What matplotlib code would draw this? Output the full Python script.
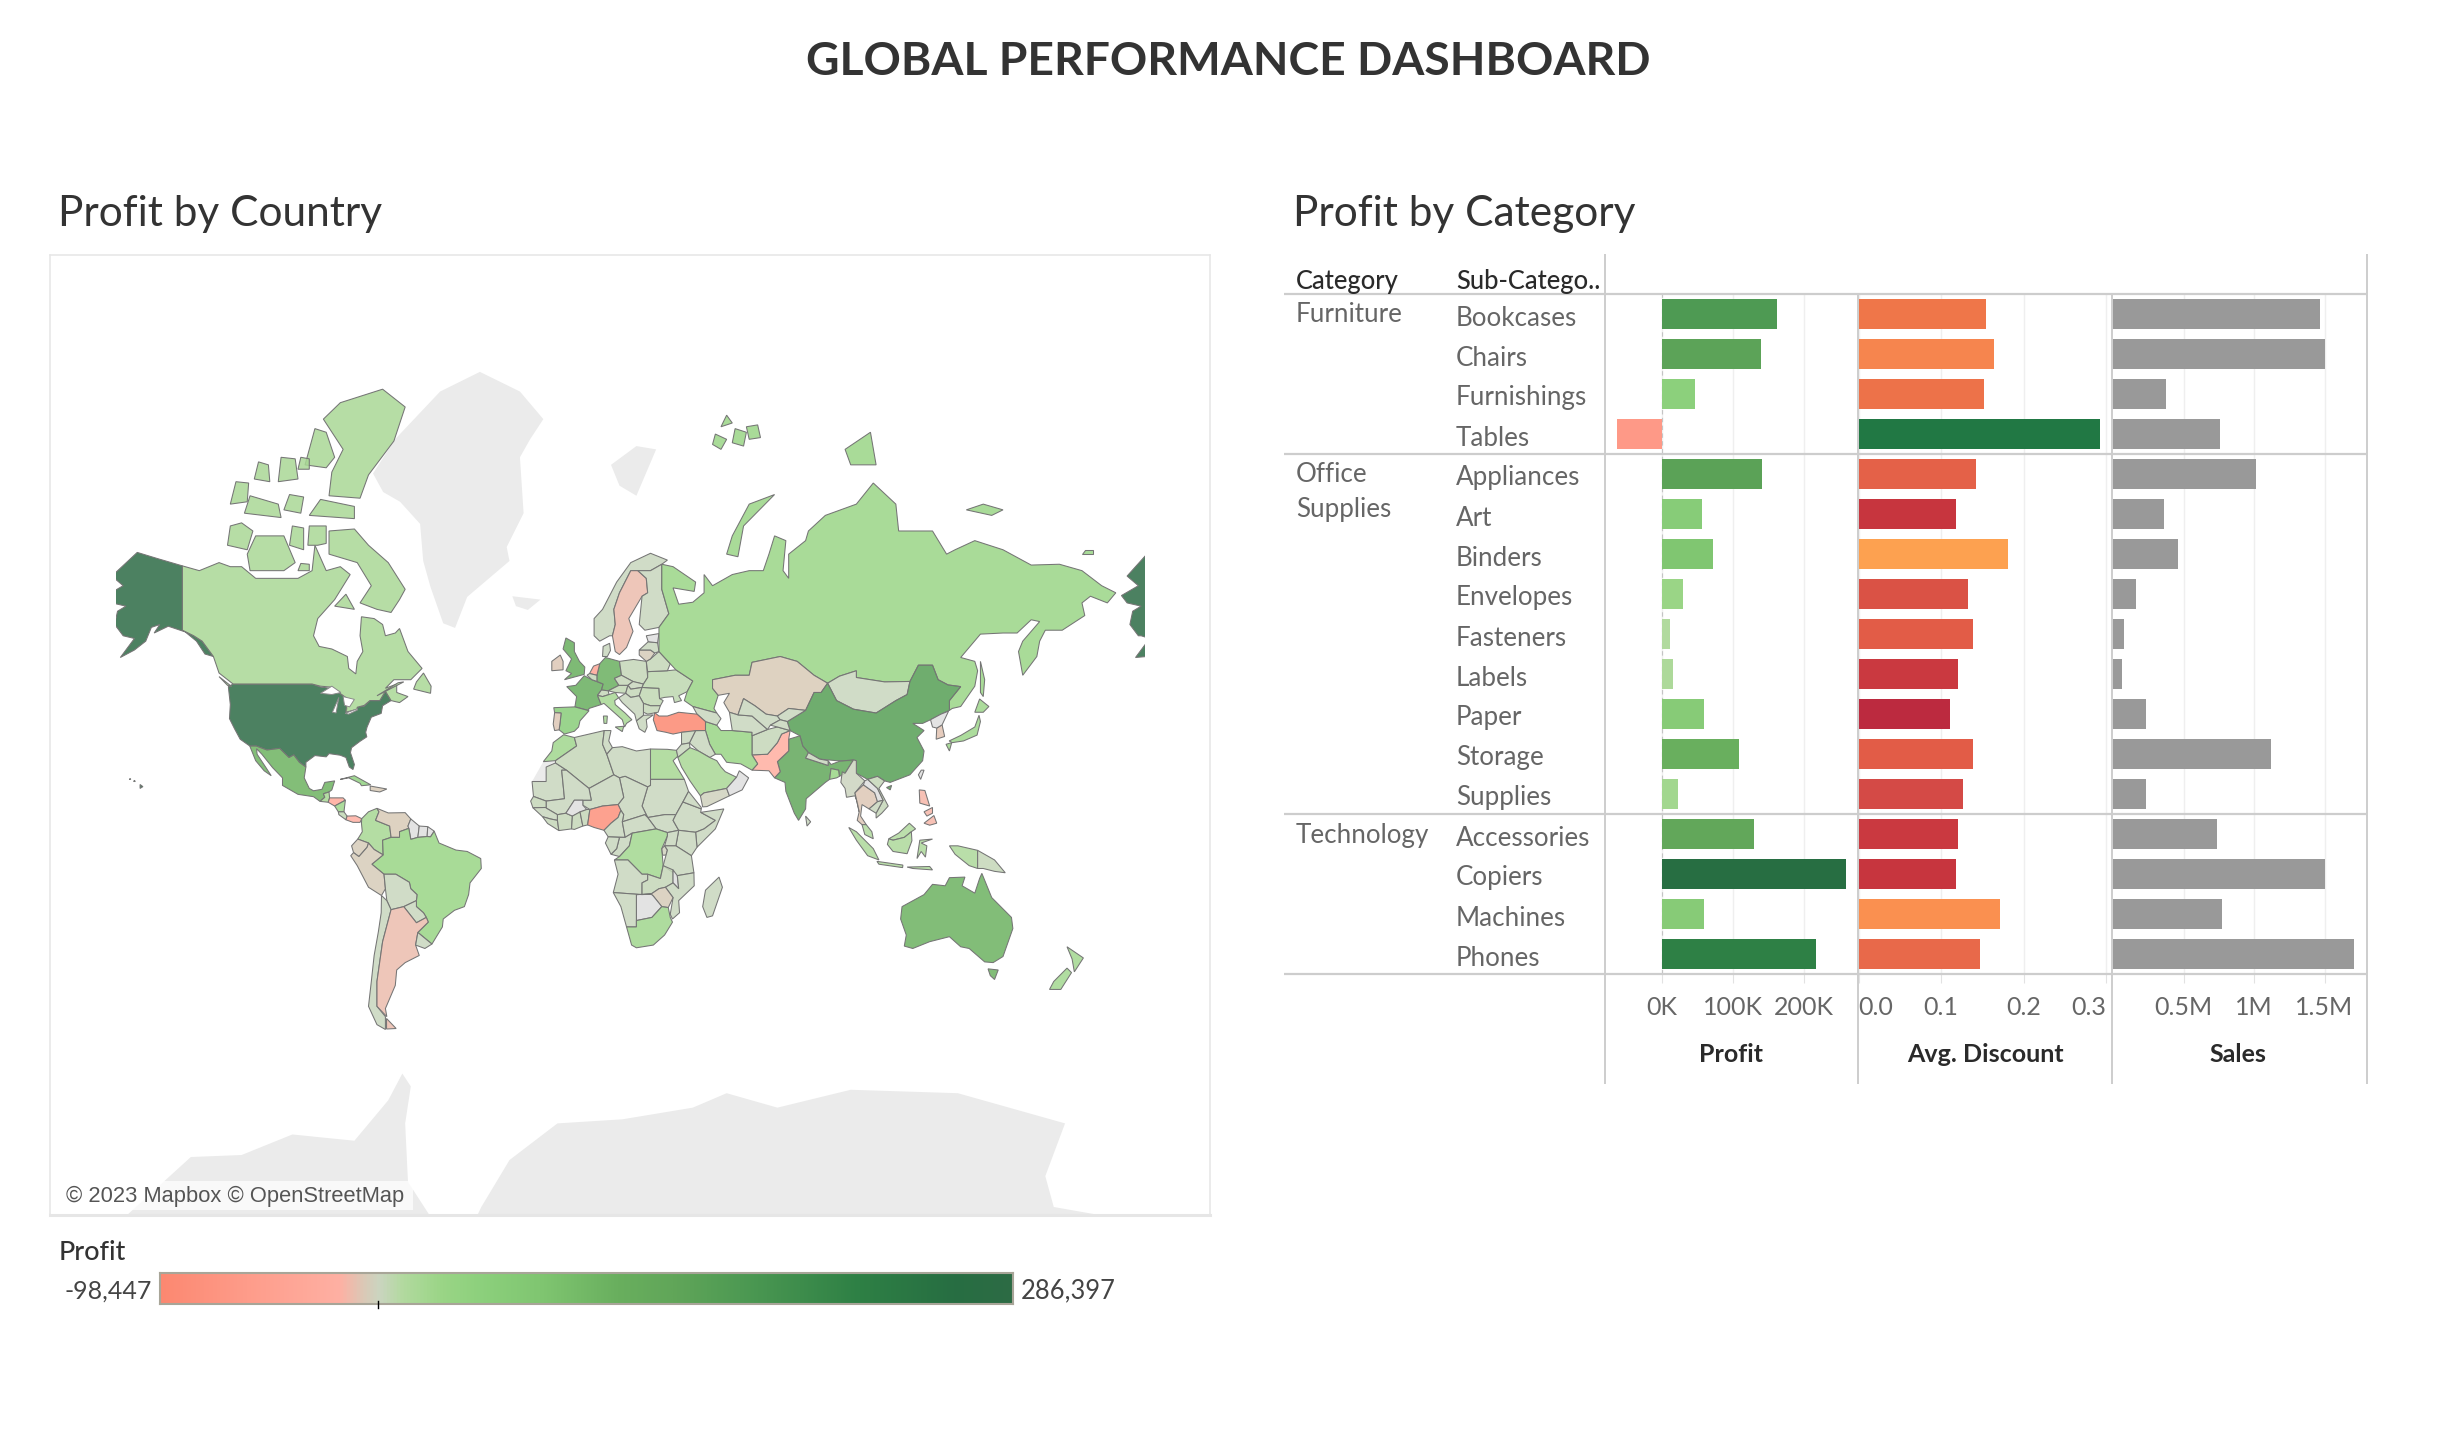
import numpy as np
import matplotlib
matplotlib.use("Agg")
import matplotlib.pyplot as plt
from matplotlib.colors import LinearSegmentedColormap, Normalize, to_rgba
from matplotlib.patches import Rectangle

W, H = 2458, 1430
FONT = "Lato"
plt.rcParams["font.family"] = [FONT, "DejaVu Sans"]

# bar chart data
categories = [("Furniture", 0), ("Office\nSupplies", 4), ("Technology", 13)]
sub_categories = ["Bookcases", "Chairs", "Furnishings", "Tables", "Appliances", "Art", "Binders",
                  "Envelopes", "Fasteners", "Labels", "Paper", "Storage", "Supplies",
                  "Accessories", "Copiers", "Machines", "Phones"]
profit = [162000, 140000, 47000, -64000, 141000, 57000, 72000, 29000, 11500, 15000, 59000,
          108000, 22500, 129500, 258500, 58500, 217000]
discount = [0.154, 0.164, 0.152, 0.292, 0.142, 0.118, 0.181, 0.133, 0.139, 0.120, 0.111,
            0.139, 0.127, 0.120, 0.118, 0.171, 0.147]
sales = [1.466, 1.50, 0.373, 0.756, 1.011, 0.362, 0.46, 0.163, 0.077, 0.061, 0.234,
         1.124, 0.234, 0.741, 1.507, 0.772, 1.706]

profit_min, profit_max = -98447, 286397

# profit per country for the map, countries missing here are null (grey)
country_profit = {
    "USA": 286397, "China": 150683, "India": 129072, "UK": 111900, "France": 109029,
    "Germany": 107322, "Australia": 103907, "Mexico": 102818, "Spain": 54390, "Brazil": 30000,
    "Russia": 28000, "Canada": 17800, "Colombia": 20000, "Italy": 20000, "Morocco": 24000,
    "South Africa": 24000, "DRC": 22000, "Iran": 30000, "Egypt": 20000, "Saudi Arabia": 18000,
    "Indonesia": 15600, "Malaysia": 12000, "Japan": 25000, "Bangladesh": 30000, "New Zealand": 22000,
    "Cuba": 40000, "Nicaragua": 25000, "PNG": 3000, "Turkey": -98447, "Nigeria": -80751,
    "Netherlands": -41000, "Honduras": -33000, "Panama": -20000, "Pakistan": -22446,
    "Argentina": -12000, "Sweden": -12000, "Philippines": -15000, "Thailand": -7000,
    "Kazakhstan": -6000, "Venezuela": -6000, "Peru": -5000, "Ecuador": -5000, "Zimbabwe": -4000,
    "Ireland": -7000, "Portugal": -7000, "South Korea": -9000, "Hispaniola": -6000, "Yemen": -2000,
    "Lithuania": -5000, "Mongolia": 800, "Bolivia": 1000, "Chile": 1500, "Paraguay": 1000,
    "Uruguay": 1500, "Guatemala": 20000, "Costa Rica": 5000, "Algeria": 2500, "Mauritania": 1000,
    "Mali": 1000, "Niger": 1000, "Chad": 1000, "Libya": 1500, "Tunisia": 2000, "Sudan": 1500,
    "South Sudan": 1000, "Ethiopia": 1000, "Eritrea": 1000, "Somalia": 1500, "Kenya": 1500,
    "Uganda": 1500, "Tanzania": 2000, "Angola": 2000, "Zambia": 2500, "Mozambique": 2000,
    "Namibia": 1000, "Madagascar": 1500, "Senegal": 2500, "Guinea": 1000, "Ivory Coast": 2500,
    "Ghana": 2500, "Liberia": 2500, "Benin": 2500, "Cameroon": 1500, "CAR": 1000, "Congo": 1000,
    "Gabon": 1000, "Rwanda": -2000, "Norway": 1500, "Finland": 1500, "Denmark": 1000,
    "Belgium": 2500, "Poland": 3000, "Czechia": 3500, "Slovakia": 2000, "Austria": 4000,
    "Switzerland": 2500, "Hungary": 3000, "Romania": 4000, "Bulgaria": 2500, "Greece": 2000,
    "Balkans": 2000, "Ukraine": 6000, "Belarus": 2500, "Latvia": 2000, "Iraq": 2000, "Syria": 1500,
    "Jordan": 1500, "Afghanistan": 2500, "Uzbekistan": 1500, "Turkmenistan": 2000, "Kyrgyzstan": 1000,
    "Tajikistan": 1500, "Caucasus": 1500, "Myanmar": 500, "Vietnam": 3000, "Cambodia": 2000,
    "Nepal": 1000, "Sri Lanka": 1000,
}

# outlines as (lon, lat) rings
shapes_north_america = {
    "USA": [
        [(-124.7, 48.4), (-123, 49), (-95, 49), (-92, 48.3), (-88.5, 48), (-84.8, 46.6), (-83.5, 45.8),
         (-82.5, 43), (-83, 42), (-79, 42.8), (-79, 43.3), (-76.5, 43.6), (-74.5, 45), (-71, 45),
         (-69, 47.3), (-67, 45), (-70, 43.7), (-70.5, 41.7), (-74, 40.7), (-75.5, 38), (-76, 36.5),
         (-75.6, 35.2), (-78, 33.9), (-81, 32), (-81.4, 30.5), (-80, 26.8), (-80.5, 25.2), (-81.8, 26),
         (-83, 29), (-85, 29.7), (-89, 30.2), (-90, 29.2), (-94, 29.6), (-97.2, 27.5), (-97.2, 26),
         (-99.5, 27.5), (-101.5, 29.8), (-103.2, 29), (-106.5, 31.8), (-111, 31.3), (-114.8, 32.5),
         (-117.1, 32.5), (-120.5, 34.5), (-122.5, 37.5), (-124.3, 40.3), (-124, 44)],
        [(-141, 69.6), (-141, 60), (-137, 59), (-134, 58), (-130, 55), (-133, 55.5), (-136, 58), (-140, 59.7),
         (-146, 60.7), (-151, 59.5), (-149, 61), (-152, 60.5), (-154, 58), (-158, 56.3), (-163, 54.8), (-158, 58.5), (-162, 59),
         (-165, 61), (-164, 63.2), (-161, 64), (-166, 64.5), (-168, 65.6), (-162, 67), (-166, 68.3),
         (-157, 71.2), (-150, 70.5)],
        # western Alaska wraps round to the right edge of the map
        [(199, 59), (198, 59), (195, 61), (196, 63.2), (199, 64), (194, 64.5), (192, 65.6), (198, 67),
         (194, 68.3), (201, 71), (201, 55), (197, 54.8), (202, 58.5)],
        [(-156, 19), (-155, 19.6), (-156, 20.3)],
        [(-158.3, 21.3), (-157.7, 21.3), (-158, 21.7)],
        [(-159.8, 22), (-159.3, 22), (-159.5, 22.3)],
    ],
    "Canada": [
        [(-141, 69.6), (-135, 69), (-128, 70), (-124, 69.5), (-120, 69.5), (-115, 68), (-108, 68), (-100, 68), (-95, 69),
         (-94, 72), (-90, 69), (-85, 69.5), (-81.5, 68.5), (-87, 65), (-93, 62), (-94.5, 59), (-92.5, 57),
         (-88, 56.5), (-82.5, 55), (-82, 52.5), (-79.5, 51.3), (-79, 54), (-77, 56), (-78, 59), (-77.5, 62.3),
         (-73, 62), (-70, 61), (-69, 59), (-65.5, 59.5), (-64, 60.3), (-61, 56), (-56, 52.5), (-60, 50),
         (-66, 50), (-69, 48), (-65, 49), (-65, 47), (-61, 46), (-64, 44.5), (-67, 45), (-69, 47.3), (-71, 45),
         (-74.5, 45), (-76.5, 43.8), (-79, 43.3), (-79, 42.8), (-83, 42), (-82.5, 45.5), (-84.5, 46.5),
         (-88.5, 48.3), (-92, 48.5), (-95, 49), (-123, 49), (-128, 51.5), (-130, 55), (-134, 58), (-137, 59),
         (-141, 60)],
        [(-62, 66.5), (-64, 65), (-67, 63), (-72, 63.5), (-78, 64.5), (-74, 67), (-79, 70), (-89, 71), (-89, 73.5),
         (-80, 73.7), (-75, 72), (-68, 70)],
        [(-117, 69), (-105, 69), (-101, 70), (-105, 73), (-115, 73), (-118, 71)],
        [(-125, 72), (-118, 71.5), (-116, 73.5), (-120, 74.3), (-124, 74)],
        [(-89, 76.7), (-78, 76.5), (-75, 78.3), (-66, 80.5), (-62, 82.3), (-70, 83.1), (-85, 82.5), (-91, 81.7), (-84, 80), (-88, 78.5)],
        [(-96, 75), (-80, 74.7), (-80, 75.8), (-92, 76.4)],
        [(-119, 75.2), (-106, 74.8), (-107, 76), (-117, 76.7)],
        [(-97.5, 79), (-90, 78.8), (-87, 79.5), (-90, 81), (-94, 81.2)],
        [(-87, 64), (-80, 63.5), (-83, 65.8)],
        [(-59, 47.8), (-53, 46.8), (-52.8, 48.5), (-55.5, 51.5), (-58, 49.5)],
        [(-128, 50.7), (-123.5, 48.4), (-125, 48.7)],
        [(-96.5, 72), (-93, 72), (-90, 72.2), (-90, 74), (-96, 74)],
        [(-103, 72), (-98, 71.5), (-98, 73.8), (-102, 74)],
        [(-105, 75.5), (-99, 75.2), (-98, 76.6), (-103, 76.8)],
        [(-115.5, 78), (-110, 77.8), (-110.5, 79), (-114, 79.2)],
        [(-124, 76), (-118, 76.2), (-117.5, 77.7), (-122, 77.8)],
        [(-107, 77.8), (-100, 78), (-101, 79.4), (-106, 79.5)],
        [(-100, 78.7), (-96, 78.7), (-96, 79.4), (-99, 79.5)],
        [(-100, 69), (-96, 69), (-96, 69.8), (-99, 69.9)],
        [(-72, 46.2), (-62.5, 49.5), (-64.5, 49.3)],
    ],
    "Mexico": [[(-117.1, 32.5), (-114.8, 32.5), (-111, 31.3), (-106.5, 31.8), (-103.2, 29), (-101.5, 29.8),
                (-99.5, 27.5), (-97.2, 26), (-97.8, 22.5), (-96, 19), (-94.5, 18.2), (-91.5, 18.7), (-90.5, 21),
                (-87, 21.5), (-88, 18.5), (-89, 17.8), (-91, 17.2), (-90.5, 16), (-92.2, 14.6), (-94.5, 16.2),
                (-100, 17), (-105.5, 20), (-105.5, 22.5), (-109, 25.8), (-112.8, 30), (-114.7, 31.7), (-114.5, 30),
                (-111.5, 26), (-109.5, 23.2), (-112, 24.8), (-115, 28)]],
    "Guatemala": [[(-92.2, 14.6), (-90.5, 16), (-91, 17.2), (-89, 17.8), (-88.8, 15.8), (-89.3, 14.3)]],
    "Honduras": [[(-88.8, 15.8), (-84, 15.8), (-83.2, 15), (-87, 13), (-89.3, 14.3)]],
    "Nicaragua": [[(-87, 13), (-83.2, 15), (-83.7, 11), (-85.7, 11)]],
    "Costa Rica": [[(-85.7, 11), (-83.7, 11), (-82.6, 9.5), (-83, 8.2), (-85.5, 10)]],
    "Panama": [[(-82.6, 9.5), (-79.5, 9.6), (-77.4, 8.6), (-78, 7.3), (-80.5, 7.3), (-83, 8.2)]],
    "Cuba": [[(-85, 22), (-80, 23.2), (-74.2, 20.2), (-77.5, 19.9), (-78, 20.7), (-82, 22.5)]],
    "Hispaniola": [[(-74.4, 19.8), (-68.5, 18.8), (-71, 17.8), (-74.4, 18.3)]],
}

shapes_south_america = {
    "Colombia": [[(-77.4, 8.6), (-75, 11), (-72, 12.2), (-71.3, 11), (-72.5, 8), (-70, 7), (-67.5, 6), (-67, 2),
                  (-70, 1), (-69.8, -4.2), (-73, -2.3), (-75, 0), (-78.8, 1.4), (-77.2, 4), (-77.5, 7)]],
    "Venezuela": [[(-72, 12.2), (-68, 10.6), (-62, 10.7), (-60, 8.5), (-61, 6), (-60.7, 5.2), (-64, 4), (-64, 2),
                   (-67, 2), (-67.5, 6), (-70, 7), (-72.5, 8), (-71.3, 11)]],
    "Guyana": [[(-60, 8.5), (-57, 6), (-57.5, 2), (-60, 1.3), (-60.7, 5.2), (-61, 6)]],
    "Suriname": [[(-57, 6), (-54, 5.8), (-54.2, 2.3), (-57.5, 2)]],
    "French Guiana": [[(-54, 5.8), (-51.7, 4.2), (-53, 2.2), (-54.2, 2.3)]],
    "Brazil": [[(-60.7, 5.2), (-60, 1.3), (-57.5, 2), (-54.2, 2.3), (-53, 2.2), (-51.7, 4.2), (-50, 0), (-44, -2.5),
                (-40, -3), (-35.2, -5.5), (-35, -9), (-39, -14), (-39.5, -18), (-41, -22), (-44.5, -23.2),
                (-48.5, -26), (-48.8, -28.5), (-52.5, -33.7), (-57.5, -30.2), (-53.8, -27), (-54.5, -25.5),
                (-55.5, -24), (-58, -22), (-58, -20), (-57.8, -18), (-60, -16), (-60.5, -13.8), (-65.3, -11),
                (-69.5, -11), (-73.8, -7.5), (-69.8, -4.2), (-70, 1), (-67, 2), (-64, 2), (-64, 4)]],
    "Ecuador": [[(-78.8, 1.4), (-75, 0), (-75.5, -1.5), (-78.4, -4.8), (-80.3, -3.4), (-81, -1)]],
    "Peru": [[(-81.3, -4.5), (-80.3, -3.4), (-78.4, -4.8), (-75.5, -1.5), (-75, 0), (-73, -2.3), (-69.8, -4.2),
              (-73.8, -7.5), (-69.5, -11), (-69, -16), (-70.4, -18.3), (-75, -15.5), (-79, -8)]],
    "Bolivia": [[(-69.5, -11), (-65.3, -11), (-60.5, -13.8), (-60, -16), (-57.8, -18), (-58, -20), (-62.5, -22),
                 (-67, -23), (-68.5, -20), (-69, -16)]],
    "Paraguay": [[(-58, -20), (-58, -22), (-55.5, -24), (-54.5, -25.5), (-58, -27.2), (-62.5, -22)]],
    "Chile": [[(-70.4, -18.3), (-68.5, -20), (-67, -23), (-70, -33), (-72, -44), (-72, -50), (-69, -52.3), (-69, -55),
               (-72, -54), (-75, -50), (-74, -44), (-73, -37), (-71.5, -30), (-70.5, -24)]],
    "Argentina": [[(-67, -23), (-62.5, -22), (-58, -27.2), (-54.5, -25.5), (-53.8, -27), (-57.5, -30.2), (-58.3, -34),
                   (-57, -37), (-62, -39), (-65, -41), (-65.5, -45), (-69, -50.5), (-68.5, -52.3), (-72, -50),
                   (-72, -44), (-70, -33)],
                  [(-68.6, -52.7), (-65.2, -54.8), (-68.6, -54.9)]],
    "Uruguay": [[(-57.5, -30.2), (-52.5, -33.7), (-55, -35), (-58.3, -34)]],
}

shapes_europe = {
    "UK": [[(-5.5, 50), (1.5, 51.2), (1.7, 52.8), (-0.2, 54), (-2, 56), (-2, 57.7), (-5, 58.6), (-6, 56.5), (-3, 54.5),
            (-5, 52), (-3, 51.4)]],
    "Ireland": [[(-10, 52), (-6, 52.2), (-6, 54), (-7, 55.3), (-10, 54)]],
    "France": [[(-4.7, 48.4), (-1.5, 48.7), (1.5, 50.9), (4.2, 50), (8.2, 49), (7.6, 47.6), (6.2, 46.3), (7.5, 44),
                (3.2, 43), (3, 42.5), (-1.8, 43.4), (-1.2, 46)]],
    "Spain": [[(-9.3, 43.2), (-1.8, 43.4), (3.2, 42.4), (0, 39.7), (-0.5, 38), (-2, 36.8), (-5.5, 36), (-7.4, 37.2),
               (-7, 39.5), (-6.7, 41.8), (-9, 41.9)]],
    "Portugal": [[(-9, 41.9), (-6.7, 41.8), (-7, 39.5), (-7.4, 37.2), (-9, 37), (-9.5, 38.8)]],
    "Germany": [[(6, 51), (7, 53.5), (9, 54.8), (14, 54), (14.7, 51), (12.2, 50.3), (13.8, 48.7), (10, 47.4), (7.6, 47.6),
                 (8.2, 49), (6, 49.6)]],
    "Netherlands": [[(3.4, 51.4), (6, 51), (7, 53.5), (4.8, 53)]],
    "Belgium": [[(2.5, 51), (3.4, 51.4), (6, 51), (6, 49.6), (4.2, 50)]],
    "Switzerland": [[(6.2, 46.3), (7.6, 47.6), (10, 47.4), (10.3, 46.5), (8, 46)]],
    "Austria": [[(10, 47.4), (13.8, 48.7), (17, 48.7), (16.2, 46.8), (12.5, 47)]],
    "Italy": [[(7.5, 44), (6.2, 46.3), (8, 46), (10.3, 46.5), (12.5, 47), (13.7, 45.7), (12.3, 45), (12.5, 44), (16, 41.8),
               (18.4, 40), (16.5, 39), (15.8, 38), (15, 40), (10.5, 43), (8.5, 44.3)],
              [(12.5, 38), (15.5, 38.2), (15, 36.7)], [(8.3, 41), (9.7, 41), (9.5, 39), (8.5, 39)]],
    "Poland": [[(14, 54), (19, 54.4), (23.5, 54), (24, 50.5), (22.5, 49), (19, 49.5), (14.7, 51)]],
    "Czechia": [[(12.2, 50.3), (14.7, 51), (18.8, 49.6), (17, 48.7), (13.8, 48.7)]],
    "Slovakia": [[(17, 48.7), (18.8, 49.6), (22.5, 49), (22, 48.2), (18, 47.8)]],
    "Hungary": [[(16.2, 46.8), (17, 48.7), (18, 47.8), (22, 48.2), (21, 46.2), (18, 45.8)]],
    "Romania": [[(22, 48.2), (28, 48), (28.2, 45.5), (29.5, 45), (28.5, 43.7), (25, 43.7), (22.5, 44.3), (21, 46.2)]],
    "Bulgaria": [[(22.5, 44.3), (25, 43.7), (28.5, 43.7), (27.7, 42), (24, 41.5), (22.5, 42)]],
    "Greece": [[(20, 39.7), (22.5, 41.2), (26, 41.3), (23.5, 40), (23.8, 38), (23, 36.5), (21, 37.5)]],
    "Balkans": [[(13.7, 45.7), (16.2, 46.8), (18, 45.8), (21, 46.2), (22.5, 44.3), (22.5, 42), (22.5, 41.2), (20, 39.7),
                 (19.4, 41.5), (15, 44.5)]],
    "Ukraine": [[(24, 50.5), (24, 51.8), (31, 52), (34, 52.2), (40, 49.7), (38, 47.2), (35, 46.2), (36, 45), (33.5, 44.5),
                 (33, 46), (30, 45.8), (28.2, 45.5), (28, 48), (22, 48.2), (22.5, 49)]],
    "Belarus": [[(23.5, 54), (24, 51.8), (31, 52), (32, 53.5), (28, 56), (25, 54.5)]],
    "Lithuania": [[(21, 55.3), (21, 56.3), (25, 56.3), (26.5, 55.7), (25, 54.5), (23.5, 54)]],
    "Latvia": [[(21, 56.3), (24.2, 57.9), (27.5, 57.7), (28, 56), (26.5, 55.7), (25, 56.3)]],
    "Estonia": [[(23.5, 59), (28, 59.4), (27.5, 57.7), (24.2, 57.9)]],
    "Denmark": [[(8, 55), (8.2, 57), (10.5, 57.6), (10.8, 56.2), (9.7, 55)]],
    "Norway": [[(5, 59), (7, 58), (10.5, 59), (11.5, 59), (12.5, 61), (12, 63.5), (14, 66), (18, 69), (20.5, 69), (25, 69),
                (29, 69.8), (31, 70.3), (25, 71.1), (18, 70), (13, 67.5), (8, 63.5), (5, 62)]],
    "Sweden": [[(11.5, 59), (12.5, 56), (14, 55.4), (16.5, 56.8), (18.8, 59.8), (17.3, 62), (22, 65.5), (24, 66),
                (23.5, 68), (20.5, 69), (18, 69), (14, 66), (12, 63.5), (12.5, 61)]],
    "Finland": [[(24, 66), (22, 65.5), (21, 61), (23, 60), (28, 60.5), (31.5, 62.8), (29, 66.5), (29, 69.8), (25, 69),
                 (20.5, 69), (23.5, 68)]],
}

shapes_africa = {
    "Morocco": [[(-5.8, 35.8), (-2, 35), (-1.2, 32.5), (-8.7, 28), (-13, 27.7), (-10, 31), (-9.5, 33.5)]],
    "Mauritania": [[(-17, 21.3), (-12, 21.3), (-12, 26), (-8.7, 27.3), (-4.8, 25), (-6.5, 25), (-5.5, 15.5), (-12, 14.7),
                    (-16.5, 16.3)]],
    "Algeria": [[(-2, 35), (8.6, 37), (8, 33), (9.5, 30), (12, 23.5), (3.2, 19), (1.2, 20.5), (-4.8, 25), (-8.7, 27.3),
                 (-8.7, 28), (-1.2, 32.5)]],
    "Tunisia": [[(8.6, 37), (11, 37), (10.2, 34), (11.5, 32), (9.5, 30), (8, 33)]],
    "Libya": [[(11.5, 32), (15, 32.3), (20, 31), (25, 31.6), (25, 20), (24, 19.5), (16, 23), (14, 22.5), (12, 23.5), (9.5, 30)]],
    "Egypt": [[(25, 31.6), (31, 31.5), (34.2, 31.2), (34.8, 29.5), (33, 28), (37, 22), (25, 22)]],
    "Sudan": [[(25, 22), (37, 22), (38.5, 18), (36.5, 14.4), (34, 10), (30, 10), (24, 9), (22, 13), (24, 19.5), (25, 20)]],
    "South Sudan": [[(24, 9), (30, 10), (34, 10), (33, 8), (35, 4.5), (31, 3.7), (27, 5)]],
    "Chad": [[(14, 22.5), (16, 23), (24, 19.5), (22, 13), (24, 9), (23, 10), (15, 7.5), (15.5, 10), (14.5, 11.5), (13.5, 13.5), (15.5, 16)]],
    "Niger": [[(3.2, 19), (12, 23.5), (14, 22.5), (15.5, 16), (13.5, 13.5), (8, 13), (3.5, 11.8), (1, 13.3), (1, 15), (4, 15)]],
    "Mali": [[(-12, 14.7), (-5.5, 15.5), (-6.5, 25), (-4.8, 25), (1.2, 20.5), (3.2, 19), (4, 15), (1, 15), (-2, 15), (-5, 10.5),
              (-8, 10), (-12, 12.3)]],
    "Senegal": [[(-17.5, 14.7), (-16.5, 16.3), (-12, 14.7), (-12, 12.5), (-16.7, 12.4)]],
    "Guinea": [[(-16.7, 12.4), (-12, 12.5), (-12, 12.3), (-8, 10), (-8, 8), (-10.5, 8.5), (-13.3, 9.3)]],
    "Liberia": [[(-13.3, 9.3), (-10.5, 8.5), (-8, 8), (-7.5, 4.4), (-11.5, 6.9)]],
    "Ivory Coast": [[(-8, 10), (-5, 10.5), (-2.7, 9.5), (-3, 5), (-7.5, 4.4), (-8, 8)]],
    "Burkina Faso": [[(-5, 10.5), (-2, 15), (1, 15), (1, 13.3), (2.4, 11.8), (-2.7, 9.5)]],
    "Ghana": [[(-2.7, 9.5), (0, 11), (1, 6), (-2, 4.8), (-3, 5)]],
    "Benin": [[(0, 11), (2.4, 11.8), (3.5, 11.8), (2.7, 6.4), (1, 6)]],
    "Nigeria": [[(2.7, 6.4), (3.5, 11.8), (8, 13), (13.5, 13.5), (14.5, 11.5), (13.5, 9), (11, 7), (8.5, 4.5), (5, 5.5)]],
    "Cameroon": [[(8.5, 4.5), (11, 7), (13.5, 9), (14.5, 11.5), (15.5, 10), (15, 7.5), (16, 2), (10, 2.2)]],
    "CAR": [[(15, 7.5), (23, 10), (24, 9), (27, 5), (18.5, 3.5), (16, 2)]],
    "Congo": [[(11, -4), (14, -4.8), (17.5, -1), (18.5, 3.5), (16, 2), (14, 2), (13, -2)]],
    "Gabon": [[(9, 0), (10, 2.2), (14, 2), (13, -2), (11, -4)]],
    "DRC": [[(12.2, -6), (17, -6), (22, -11), (24, -11), (28.5, -12.5), (29.5, -8), (29, -2), (31, 2.5), (31, 3.7), (27, 5), (18.5, 3.5),
             (17.5, -1), (14, -4.8)]],
    "Ethiopia": [[(33, 8), (34, 10), (36.5, 14.4), (43, 12), (42.8, 10.8), (48, 8), (44, 5), (41, 3.8), (35, 4.5)]],
    "Eritrea": [[(36.5, 14.4), (38.5, 18), (43, 12.5), (43, 12)]],
    "Somalia": [[(42.8, 10.8), (51, 12), (48, 5), (41.5, -1.5), (41, 3.8), (44, 5), (48, 8)]],
    "Kenya": [[(35, 4.5), (41, 3.8), (41.5, -1.5), (39.5, -4.5), (34, -1)]],
    "Uganda": [[(31, 3.7), (35, 4.5), (34, -1), (30, -1), (31, 2.5)]],
    "Rwanda": [[(29, -2), (30, -1), (31, -2.5), (30.5, -4.3), (29.3, -4.3)]],
    "Tanzania": [[(31, -2.5), (30, -1), (34, -1), (39.5, -4.5), (40.4, -10.5), (34.5, -11.5), (29.5, -8), (30.5, -4.3)]],
    "Angola": [[(12.2, -6), (17, -6), (22, -11), (24, -11), (24, -13), (22, -14), (22, -18), (11.8, -17.3), (13.5, -11)]],
    "Zambia": [[(24, -11), (28.5, -12.5), (29.5, -8), (33, -9.5), (33, -14), (30.3, -15.5), (28, -16), (25.2, -17.8), (22, -18),
                (22, -14), (24, -13)]],
    "Malawi": [[(33, -9.5), (34.5, -11.5), (35, -16), (33, -14)]],
    "Mozambique": [[(34.5, -11.5), (40.4, -10.5), (40.5, -15), (35, -20), (35.3, -24), (32.8, -26), (32, -24.5), (33, -19),
                    (30.3, -15.5), (33, -14), (35, -16)]],
    "Zimbabwe": [[(25.2, -17.8), (28, -16), (30.3, -15.5), (33, -19), (31.3, -22.3), (29, -22), (26, -18.5)]],
    "Botswana": [[(20, -18), (25.2, -17.8), (26, -18.5), (29, -22), (25.5, -25.5), (20, -26.5), (20, -22)]],
    "Namibia": [[(11.8, -17.3), (22, -18), (25.2, -17.8), (20, -18), (20, -28.5), (16.5, -28.5), (14.5, -22)]],
    "South Africa": [[(16.5, -28.5), (20, -28.5), (20, -26.5), (25.5, -25.5), (29, -22), (31.3, -22.3), (32, -25.5), (32.8, -27),
                      (30, -31), (26, -34), (20, -34.8), (18.3, -34)]],
    "Madagascar": [[(49.3, -12), (50.5, -15.5), (47, -25), (45, -25.5), (43.5, -22), (44.5, -16.5)]],
}

shapes_asia = {
    "Russia": [
        [(28, 60.5), (31.5, 62.8), (29, 66.5), (29, 69.8), (33, 69.5), (41, 67.5), (40.5, 66.2), (33, 66.7), (35, 64.3), (40, 64.6),
         (44, 66), (44, 68.5), (47, 67), (54, 68.5), (60, 69), (65, 69), (67, 71), (69, 73), (73, 72.5), (72, 69), (74, 68),
         (74, 71), (80, 72.5), (81, 73.5), (87, 75), (98, 76), (104, 77.7), (112, 76), (113, 73.5), (125, 73.5), (130, 71),
         (133, 71.5), (140, 72.5), (150, 71.5), (160, 69.7), (170, 69.8), (178, 69), (185, 67), (190, 66), (187, 64.5),
         (181, 65.5), (178, 64.5), (179, 62.5), (171, 60), (165, 60), (163, 58), (162, 55), (157, 51), (155.5, 56), (157, 58),
         (163, 61.5), (160, 61.8), (155, 59.5), (150, 59.5), (142, 59.3), (135, 54.8), (140, 54), (141, 52), (140, 48.5),
         (135, 43.5), (132, 43), (131, 42.5), (131, 45), (135, 48.4), (130.5, 48.8),
         (127, 50), (125, 53.2), (120, 53.2), (117, 49.6), (108, 49.5), (98, 50.5), (98, 52), (92, 50.8), (87.8, 49.2),
         (83, 51), (77, 54), (71, 55), (61, 53.8), (60, 51), (55, 51), (47, 50), (47, 48), (49, 46.3), (47.5, 43),
         (48.5, 41.8), (45, 42.5), (40, 43.5), (37, 45), (38, 47.2), (40, 49.7), (34, 52.2), (32, 53.5), (28, 56)],
        [(52, 71), (56, 70.7), (58, 74), (69, 76.8), (60, 76), (54, 73)],
        [(142, 54), (143.5, 50), (143, 46), (142, 47)],
        [(96, 79), (105, 79), (103, 81), (94, 80)],
        [(137, 75.5), (146, 75), (150, 75.5), (143, 76)],
        [(178, 71), (182, 71), (182, 71.5), (179, 71.5)],
        [(47, 80.3), (50, 80), (52, 80.6), (48, 80.9)],
        [(54, 80.4), (58, 80.2), (59, 81), (55, 81.2)],
        [(60, 80.6), (64, 80.7), (63, 81.4), (59, 81.3)],
        [(50, 81.3), (54, 81.5), (52, 81.9)],
    ],
    "Kazakhstan": [[(47, 50), (55, 51), (60, 51), (61, 53.8), (71, 55), (77, 54), (83, 51), (87.8, 49.2), (85.5, 47), (83, 47), (80, 42.5),
                    (74, 43), (70, 41), (66, 41.5), (62, 43.7), (58, 45.5), (56, 41.3), (53, 42), (51, 44.5), (53, 46.8), (49, 46.3), (47, 48)]],
    "Mongolia": [[(87.8, 49.2), (92, 50.8), (98, 52), (98, 50.5), (108, 49.5), (117, 49.6), (116, 46.5), (112, 45), (105, 41.8), (97, 42.8), (91, 45)]],
    "China": [[(73.5, 39.5), (80, 42.5), (83, 47), (85.5, 47), (87.8, 49.2), (91, 45), (97, 42.8), (105, 41.8), (112, 45), (116, 46.5),
               (117, 49.6), (120, 53.2), (125, 53.2), (127, 50), (130.5, 48.8), (135, 48.4), (131, 45), (131, 42.5), (128, 41.5),
               (124.3, 40), (121.5, 39), (118, 39), (122, 37), (119.5, 35), (122, 31), (121.5, 28), (117, 23.5), (110, 21),
               (108, 21.5), (105.5, 23), (102, 22), (98, 24), (98, 28), (91, 28), (85, 28.5), (81, 30.5), (79, 32.5), (78, 35.5), (74.5, 37)],
              [(108.7, 19.3), (110.5, 20), (110, 18.5)]],
    "India": [[(74, 34.5), (78, 35.5), (79, 32.5), (81, 30.5), (80, 28.8), (88, 26.5), (88, 28), (89, 26.8), (92, 27.8), (97, 28.3), (94, 24),
               (92, 23), (91.7, 25), (89, 25.5), (88.5, 22), (87, 21), (80.2, 15.5), (80, 12), (77.5, 8), (76, 10.5), (73, 18), (72.7, 21),
               (69, 22.5), (71, 24.5), (70, 27.7), (74, 31)]],
    "Pakistan": [[(61, 25), (67, 24.8), (69, 22.5), (71, 24.5), (70, 27.7), (74, 31), (74, 34.5), (74.5, 37), (71.5, 36), (70, 33.5), (66.5, 30), (61, 29.8), (63, 27)]],
    "Afghanistan": [[(61, 29.8), (66.5, 30), (70, 33.5), (71.5, 36), (74.5, 37), (70, 38), (66.5, 37.3), (61, 35.5)]],
    "Iran": [[(44.5, 39.5), (48.5, 38.5), (50, 37), (54, 37), (61, 36.5), (61, 35.5), (61, 29.8), (63, 27), (61, 25), (57, 27), (52, 27.5), (50, 30), (48, 30), (46, 33), (44.5, 37)]],
    "Turkmenistan": [[(53, 42), (56, 41.3), (61, 41), (66.5, 37.3), (61, 35.5), (61, 36.5), (54, 37), (53.5, 39.5)]],
    "Uzbekistan": [[(56, 41.3), (58, 45.5), (62, 43.7), (66, 41.5), (70, 41), (71, 40), (67.5, 38.5), (66.5, 37.3), (61, 41)]],
    "Kyrgyzstan": [[(70, 41), (74, 43), (80, 42.5), (73.5, 39.5), (71, 40)]],
    "Tajikistan": [[(67.5, 38.5), (71, 40), (73.5, 39.5), (74.5, 37), (70, 38)]],
    "Caucasus": [[(40, 43.5), (45, 42.5), (48.5, 41.8), (50, 40.3), (48.5, 38.5), (44.5, 39.5), (41.5, 41.5)]],
    "Turkey": [[(26, 40), (26.5, 41.9), (28, 41), (31, 41), (35, 42), (41.5, 41.5), (44.5, 39.5), (44.5, 37), (36, 36.5), (33, 36), (30.5, 36.5), (27.3, 37)]],
    "Iraq": [[(38.8, 33.4), (41, 37), (44.5, 37), (46, 33), (48, 30), (46, 29), (42, 31)]],
    "Syria": [[(36, 33), (38.8, 33.4), (41, 37), (36, 36.5)]],
    "Jordan": [[(34.2, 31.2), (36, 33), (38.8, 33.4), (39, 32), (34.7, 29)]],
    "Saudi Arabia": [[(34.7, 29), (39, 32), (42, 31), (46, 29), (48.5, 28), (50, 26), (51.5, 24.5), (55.5, 22.7), (52, 19), (44, 17.5), (42.7, 16.5), (39, 21.5), (36, 26)]],
    "Yemen": [[(42.7, 16.5), (44, 17.5), (52, 19), (53, 16.5), (45, 12.8), (43.5, 12.7)]],
    "Oman": [[(55.5, 22.7), (52, 19), (53, 16.5), (57.5, 18.5), (59.8, 22.5), (56.5, 24.8)]],
    "Nepal": [[(81, 30.5), (85, 28.5), (88, 28), (88, 26.5), (80, 28.8)]],
    "Bangladesh": [[(89, 25.5), (91.7, 25), (92, 23), (91, 22.5), (88.5, 22)]],
    "Sri Lanka": [[(80, 9.5), (81.8, 7.5), (80.5, 6)]],
    "Myanmar": [[(92.5, 21), (93, 24.5), (94, 24), (97, 28.3), (98, 28), (98, 24), (101, 21.5), (97.5, 17.5), (99, 11), (98.5, 14), (97.5, 16.5), (94.5, 16), (94, 19)]],
    "Thailand": [[(97.5, 17.5), (100.5, 20.2), (104.5, 17.5), (105.5, 14.5), (102.5, 12), (100, 13.5), (99.5, 9.5), (101.5, 6.5), (100, 6.5), (98.3, 8), (99, 11)]],
    "Laos": [[(101, 21.5), (102, 22), (105.5, 19), (107.5, 15), (105.5, 14.5), (104.5, 17.5), (100.5, 20.2)]],
    "Vietnam": [[(102, 22), (105.5, 23), (108, 21.5), (106, 19), (109.3, 13), (107, 10.5), (105, 8.8), (105, 10.5), (107.5, 15), (105.5, 19)]],
    "Cambodia": [[(102.5, 12), (105.5, 14.5), (107.5, 15), (105, 10.5)]],
    "Malaysia": [[(100, 6.5), (101.5, 6.5), (103.5, 4), (104, 1.5), (101, 3)], [(109.5, 1.5), (113, 3.5), (116.8, 7), (119, 5), (117.5, 4), (115, 2), (111, 1)]],
    "Indonesia": [[(95.3, 5.5), (98, 4), (104, -2), (106, -6), (102, -4.5), (98, 1)], [(105.3, -6.5), (114.5, -7.8), (114.4, -8.7), (106, -7.5)],
                  [(109.5, 1.5), (111, 1), (115, 2), (117.5, 4), (117.7, 0.8), (116, -3.8), (111, -3), (109, -0.5)],
                  [(119.5, -5.5), (120.5, 1), (125, 1.4), (121, 0), (123, -1), (122.5, -5), (121, -3)],
                  [(131, -1), (134, -1), (141, -2.6), (141, -9), (138, -8), (133, -4)], [(116, -8.5), (124, -8.3), (125, -9.5), (118, -9)]],
    "PNG": [[(141, -2.6), (147, -6), (150.8, -10.5), (147, -10), (143, -9), (141, -9)]],
    "Philippines": [[(120.3, 18.5), (122.3, 18.3), (124, 13), (120.5, 14)], [(122, 7), (125.5, 9.7), (126.5, 7), (124, 6.3)], [(122, 11), (125, 12.5), (125, 10.5), (123, 9.5)]],
    "Japan": [[(130.9, 34), (135, 35.6), (140, 38), (141.5, 41.2), (142, 39.5), (140.8, 35.7), (136, 34), (132, 33.5)], [(140, 42), (141.7, 45.4), (145, 43.5), (143, 42)],
              [(129.8, 33), (131.8, 33.5), (131, 31)]],
    "South Korea": [[(126.3, 34.5), (129.3, 35.3), (128.4, 38.6), (126.5, 37.7)]],
    "North Korea": [[(124.3, 40), (128, 41.5), (130.7, 42.3), (128.4, 38.6), (126.5, 37.7), (125, 38)]],
    "Taiwan": [[(121, 25), (122, 25), (120.8, 22), (120, 23.5)]],
}

shapes_oceania = {
    "Australia": [[(113.7, -26), (114.2, -22), (122, -18), (125, -14.5), (129.5, -15), (131, -12.2), (136.5, -12), (135.5, -15),
                   (140, -17.5), (141.7, -12.5), (142.5, -10.7), (146, -19), (153, -25.5), (153.5, -29), (150, -37.3), (146.5, -39),
                   (143.5, -38.8), (138, -35), (135, -34.5), (131, -31.5), (124, -33), (118, -35), (115, -34.3), (115.7, -31)],
                  [(144.7, -40.7), (148.3, -41), (147, -43.5), (145.5, -42.5)]],
    "New Zealand": [[(172.7, -34.5), (178.5, -37.7), (175.3, -41.5), (174.5, -38)], [(172.7, -40.5), (174.3, -41.7), (170.5, -46), (166.5, -46), (168, -44)]],
}

# grey base map land, no data and no border
base_land = [
    [(-73.4, 78.4), (-65.6, 80.6), (-49.6, 83), (-35.5, 83.8), (-21.3, 83), (-13, 81.7), (-17.7, 80.6), (-21.3, 79.5), (-20, 75.2),
     (-26, 71.8), (-25, 70.2), (-40, 65.4), (-44.3, 60.4), (-48.5, 61.2), (-53, 66.8), (-55.6, 70.2), (-56.7, 74.2), (-63.8, 76.2), (-69.8, 77)],
    [(-24, 65.5), (-14, 65), (-18.5, 63.4), (-22.7, 64)],
    [(11, 79), (20, 80.2), (27, 80), (20, 76.7), (14, 77.5)],
    [(-13, 27.7), (-8.7, 27.7), (-12, 26), (-12, 21.3), (-17, 21.3)],
    [(-163, -79), (-138, -73.7), (-120, -73.5), (-102, -71.3), (-80, -72), (-68, -67), (-63, -63), (-60, -65), (-62, -70), (-61, -76), (-52, -79), (-40, -80), (-35, -78),
     (-25, -74), (-8, -70), (15, -69.5), (40, -68), (52, -66), (70, -68), (96, -65.5), (134, -66), (172, -70), (165, -75.5), (168, -78), (182, -78.5), (182, -82), (-163, -82)],
]

# white lakes on top of the filled land
lakes = [
    [(-92, 46.8), (-88, 48.5), (-84.8, 47), (-88, 46.5)],
    [(-87.8, 42), (-85.5, 45.8), (-86.5, 41.8)],
    [(-84, 46), (-80, 45.3), (-81.7, 43.4), (-83.5, 43.8)],
    [(-83.3, 41.7), (-79, 42.9), (-78.9, 42.6), (-82, 41.5)],
]

profit_colors = [(0, "#FC8871"), (.1, "#FE9C8A"), (.209, "#FFB0A3"), (.237, "#DBC8B6"), (.256, "#CBD5C0"),
                 (.284, "#B2DA9F"), (.33, "#9AD586"), (.378, "#8CD07C"), (.45, "#7FC570"), (.537, "#69AF5E"),
                 (.6, "#61A659"), (.68, "#4E9A53"), (.82, "#2E8045"), (.93, "#276E42"), (1, "#2D6B45")]
discount_colors = [(0, "#BC2A3F"), (.039, "#C8363E"), (.05, "#CB3A41"), (.088, "#D44B46"), (.122, "#DA5245"),
                   (.155, "#E25D47"), (.2, "#E96A4A"), (.238, "#EF7749"), (.293, "#F6864E"), (.331, "#FA9050"),
                   (.387, "#FDA150"), (.6, "#FEE08B"), (.8, "#8CCB7E"), (1, "#217844")]
profit_cmap = LinearSegmentedColormap.from_list("profit", profit_colors)
discount_cmap = LinearSegmentedColormap.from_list("discount", discount_colors)
profit_norm = Normalize(profit_min, profit_max)
discount_norm = Normalize(min(discount), max(discount))


def px_axes(left, top, right, bottom, **kw):
    return fig.add_axes([left / W, 1 - bottom / H, (right - left) / W, (bottom - top) / H], **kw)


def merc(lat):
    return np.degrees(np.log(np.tan(np.radians(45 + np.asarray(lat, dtype=float) / 2))))


def pt(px):
    return px * 72 / 100


fig = plt.figure(figsize=(W / 100, H / 100), dpi=100, facecolor="white")

# overlay in pixel coords for texts and rules
ov = fig.add_axes([0, 0, 1, 1], zorder=5)
ov.set_xlim(0, W)
ov.set_ylim(H, 0)
ov.axis("off")
ov.patch.set_alpha(0)

ov.text(1228, 62, "GLOBAL PERFORMANCE DASHBOARD", ha="center", va="center", fontsize=pt(46.3),
        fontweight="bold", color="#333333")
ov.text(58, 214, "Profit by Country", ha="left", va="center", fontsize=pt(42.4), color="#333333")
ov.text(1293, 214, "Profit by Category", ha="left", va="center", fontsize=pt(42.4), color="#333333")

# map
SCALE = 2.82
map_ax = px_axes(50, 255, 1210, 1215)
map_ax.set_xlim((50 - 580) / SCALE, (1210 - 580) / SCALE)
map_ax.set_ylim((843 - 1215) / SCALE, (843 - 255) / SCALE)
map_ax.set_xticks([])
map_ax.set_yticks([])
for spine in map_ax.spines.values():
    spine.set_color("#e6e6e6")
    spine.set_linewidth(1.1)
map_ax.spines["bottom"].set_linewidth(2.2)

world_clip = Rectangle((-164.5, -100), 364.9, 300, transform=map_ax.transData)

for ring in base_land:
    lon, lat = zip(*ring)
    map_ax.fill(lon, merc(lat), color="#ebebeb", lw=0, zorder=1)

all_shapes = {}
for group in (shapes_north_america, shapes_south_america, shapes_europe, shapes_africa, shapes_asia, shapes_oceania):
    all_shapes.update(group)

for name, rings in all_shapes.items():
    if name in country_profit:
        face = to_rgba(profit_cmap(profit_norm(country_profit[name])), 0.85)
    else:
        face = "#e3e3e3"
    for ring in rings:
        lon, lat = zip(*ring)
        poly = map_ax.fill(lon, merc(lat), facecolor=face, edgecolor="#757575", lw=0.75, zorder=2)[0]
        poly.set_clip_path(world_clip)

for ring in lakes:
    lon, lat = zip(*ring)
    map_ax.fill(lon, merc(lat), facecolor="white", edgecolor="#8a8a8a", lw=0.7, zorder=3)

# map credit
ov.add_patch(Rectangle((58, 1181), 355, 29, facecolor="white", alpha=0.75, edgecolor="none"))
ov.text(66, 1196, "\u00a9 2023 Mapbox \u00a9 OpenStreetMap", ha="left", va="center", fontsize=pt(21.9),
        family="Liberation Sans", color="#555555")

# colour legend
leg_ax = px_axes(160, 1273, 1013, 1304)
leg_ax.imshow(np.linspace(0, 1, 512)[None, :], cmap=profit_cmap, aspect="auto", extent=(profit_min, profit_max, 0, 1))
leg_ax.set_xticks([])
leg_ax.set_yticks([])
for spine in leg_ax.spines.values():
    spine.set_color("#a8a598")
    spine.set_linewidth(1.5)
zero_x = 160 + (0 - profit_min) / (profit_max - profit_min) * 853
ov.plot([zero_x, zero_x], [1301, 1308], color="black", lw=1)
ov.text(59, 1253, "Profit", ha="left", va="center", fontsize=pt(27), fontweight="medium", color="#333333")
ov.text(152, 1291, f"{profit_min:,}", ha="right", va="center", fontsize=pt(25), color="#444444")
ov.text(1021, 1291, f"{profit_max:,}", ha="left", va="center", fontsize=pt(25.5), color="#444444")

# table part
LINE = "#cdcdcd"
TOP, BODY_TOP, BODY_BOTTOM, BOTTOM = 254, 294, 974, 1084
n_rows = len(sub_categories)
row_h = (BODY_BOTTOM - BODY_TOP) / n_rows

ov.text(1296, 281, "Category", ha="left", va="center", fontsize=pt(25.5), fontweight="medium", color="#2a2a2a")
ov.text(1456, 281, "Sub-Catego..", ha="left", va="center", fontsize=pt(25.5), fontweight="medium", color="#2a2a2a")
for label, row in categories:
    offset = 38 if "\n" in label else 21
    ov.text(1296, BODY_TOP + row * row_h + offset, label, ha="left", va="center",
            fontsize=pt(26), color="#666666", linespacing=1.45)
for i, label in enumerate(sub_categories):
    ov.text(1456, BODY_TOP + (i + 0.5) * row_h + 4, label, ha="left", va="center", fontsize=pt(26), color="#666666")

for x in [1605, 1858, 2112, 2367]:
    top = TOP if x in (1605, 2367) else BODY_TOP
    ov.plot([x, x], [top, BOTTOM], color=LINE, lw=1.4, solid_capstyle="butt")
for y in [BODY_TOP, BODY_TOP + 4 * row_h, BODY_TOP + 13 * row_h, BODY_BOTTOM]:
    ov.plot([1284, 2367], [y, y], color=LINE, lw=1.6, solid_capstyle="butt")

# three bar panels, pixel spans give the x limits
panels = [
    (1605, 1858, 1662, 71 / 100000, profit, [profit_cmap(profit_norm(v)) for v in profit],
     [0, 100000, 200000], ["0K", "100K", "200K"], "Profit", 1731),
    (1858, 2112, 1858.5, 826, discount, [discount_cmap(discount_norm(v)) for v in discount],
     [0, .1, .2, .3], ["0.0", "0.1", "0.2", "0.3"], "Avg. Discount", 1985),
    (2112, 2367, 2113, 141, sales, ["#999999"] * n_rows,
     [.5, 1, 1.5], ["0.5M", "1M", "1.5M"], "Sales", 2238),
]
for left, right, zero, per_unit, values, colors, ticks, tick_labels, title, title_x in panels:
    ax = px_axes(left, BODY_TOP, right, BODY_BOTTOM)
    ax.patch.set_alpha(0)
    ax.set_xlim((left - zero) / per_unit, (right - zero) / per_unit)
    ax.set_ylim(n_rows - 0.5, -0.5)
    ax.barh(range(n_rows), values, height=0.75, color=colors, zorder=3)
    ax.set_yticks([])
    ax.set_xticks(ticks, tick_labels)
    ax.grid(axis="x", color="#efefef", lw=1)
    ax.set_axisbelow(True)
    ax.tick_params(axis="x", length=pt(9), width=0.8, color="#e2e2e2", pad=pt(13), labelsize=pt(25), labelcolor="#666666")
    for spine in ax.spines.values():
        spine.set_visible(False)
    if title == "Profit":
        ax.axvline(0, color="#c4c4c4", lw=0.8, ls=(0, (4, 3)), zorder=2)
    if title == "Avg. Discount":
        ax.get_xticklabels()[0].set_ha("left")
        ax.get_xticklabels()[-1].set_ha("right")
    ov.text(title_x, 1054, title, ha="center", va="center", fontsize=pt(25), fontweight="bold", color="#2a2a2a")

fig.savefig("out.png", dpi=100)
